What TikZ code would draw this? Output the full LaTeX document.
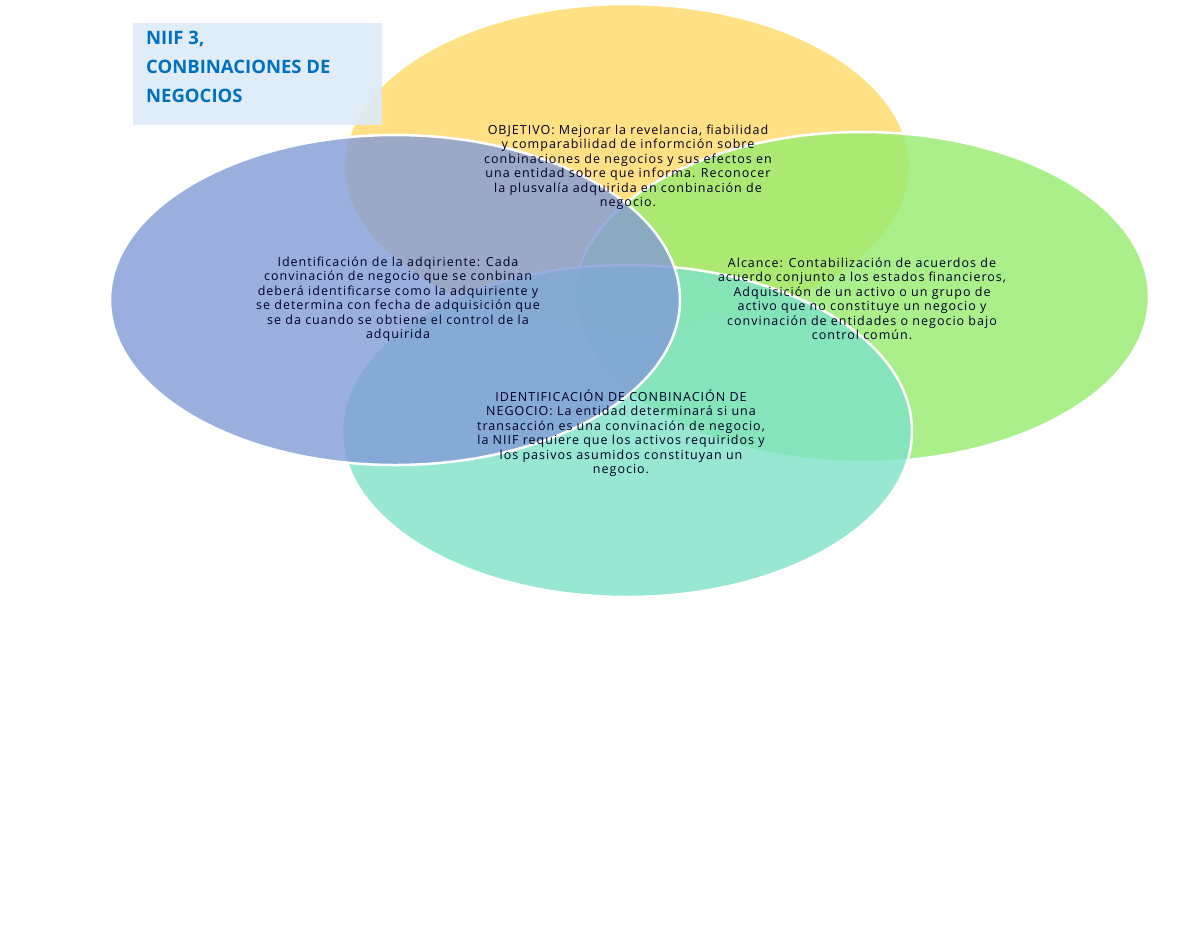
\documentclass[tikz,border=0pt]{standalone}
\usepackage{fontspec}
\setmainfont{Open Sans}
\newfontfamily\wide[LetterSpace=8]{Open Sans}
\begin{document}
\begin{tikzpicture}[x=1pt,y=-1pt,
  ell/.style={draw=white,line width=2.5pt,fill opacity=0.8},
  txt/.style={align=center,font=\wide\fontsize{12.5}{14.5}\selectfont,text=black!85!blue,inner sep=0pt}]
\useasboundingbox (0,0) rectangle (1200,927);
\fill[white] (0,0) rectangle (1200,927);
\draw[ell,fill={rgb,255:red,255;green,217;blue,102}] (627,167) ellipse [x radius=283,y radius=163];
\draw[ell,fill={rgb,255:red,150;green,236;blue,110}] (862,297) ellipse [x radius=287,y radius=165];
\draw[ell,fill={rgb,255:red,125;green,226;blue,200}] (627,431) ellipse [x radius=285,y radius=166];
\draw[ell,fill={rgb,255:red,130;green,155;blue,215}] (395,300) ellipse [x radius=285,y radius=165];
\node[fill={rgb,255:red,221;green,235;blue,247},fill opacity=0.9,text opacity=1,minimum width=249pt,minimum height=102pt,anchor=north west,inner sep=0pt] (tb) at (133,23) {};
\node[anchor=north west,align=left,text={rgb,255:red,0;green,112;blue,192},font=\fontsize{18.5}{29}\selectfont\bfseries,inner sep=0pt] (title) at (146,31) {NIIF 3,\\CONBINACIONES DE\\NEGOCIOS};
\node[txt] (obj) at (628,167) {OBJETIVO: Mejorar la revelancia, fiabilidad\\y comparabilidad de informción sobre\\conbinaciones de negocios y sus efectos en\\una entidad sobre que informa. Reconocer\\la plusvalía adquirida en conbinación de\\negocio.};
\node[txt] (alc) at (862,299) {Alcance: Contabilización de acuerdos de\\acuerdo conjunto a los estados financieros,\\Adquisición de un activo o un grupo de\\activo que no constituye un negocio y\\convinación de entidades o negocio bajo\\control común.};
\node[txt] (idf) at (398,299) {Identificación de la adqiriente: Cada\\convinación de negocio que se conbinan\\deberá identificarse como la adquiriente y\\se determina con fecha de adquisición que\\se da cuando se obtiene el control de la\\adquirida};
\node[txt] (icn) at (621,433) {IDENTIFICACIÓN DE CONBINACIÓN DE\\NEGOCIO: La entidad determinará si una\\transacción es una convinación de negocio,\\la NIIF requiere que los activos requiridos y\\los pasivos asumidos constituyan un\\negocio.};
\end{tikzpicture}
\end{document}
